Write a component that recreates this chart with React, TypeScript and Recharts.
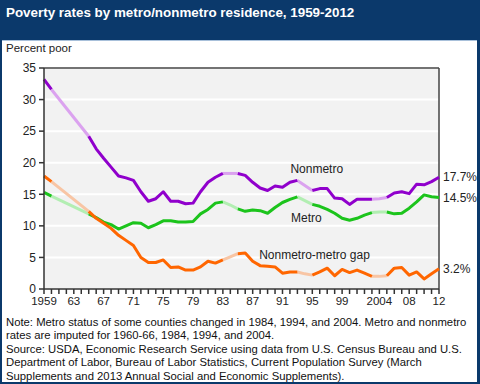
import React from 'react'
import { LineChart, Line, XAxis, YAxis, CartesianGrid, ReferenceLine, ReferenceDot } from 'recharts'

const years = [
  1959, 1960, 1961, 1962, 1963, 1964, 1965, 1966, 1967, 1968,
  1969, 1970, 1971, 1972, 1973, 1974, 1975, 1976, 1977, 1978,
  1979, 1980, 1981, 1982, 1983, 1984, 1985, 1986, 1987, 1988,
  1989, 1990, 1991, 1992, 1993, 1994, 1995, 1996, 1997, 1998,
  1999, 2000, 2001, 2002, 2003, 2004, 2005, 2006, 2007, 2008,
  2009, 2010, 2011, 2012,
]

const nonmetro = [
  33.2, 31.6, null, null, null, null, 24.2, 22.2, 20.7, 19.3,
  17.9, 17.6, 17.2, 15.4, 13.9, 14.3, 15.4, 13.9, 13.9, 13.5,
  13.6, 15.4, 16.9, 17.7, 18.3, 18.3, 18.3, 18.0, 16.9, 16.0,
  15.6, 16.3, 16.1, 16.9, 17.2, 16.4, 15.6, 15.9, 15.9, 14.4,
  14.3, 13.4, 14.2, 14.2, 14.2, 14.3, 14.5, 15.2, 15.4, 15.1,
  16.6, 16.5, 17.0, 17.7,
]

const metro = [
  15.3, 14.7, null, null, null, null, 11.9, 11.3, 10.6, 10.2,
  9.5, 10.0, 10.5, 10.4, 9.7, 10.2, 10.8, 10.8, 10.6, 10.6,
  10.7, 11.9, 12.6, 13.6, 13.8, 13.3, 12.7, 12.3, 12.5, 12.4,
  12.0, 12.9, 13.7, 14.2, 14.6, 14.0, 13.4, 13.1, 12.6, 12.0,
  11.2, 10.9, 11.2, 11.7, 12.1, 12.2, 12.2, 11.9, 12.0, 12.8,
  13.8, 14.9, 14.6, 14.5,
]

const gap = [
  17.9, 17.0, null, null, null, null, 12.3, 11.2, 10.4, 9.6,
  8.5, 7.7, 6.9, 5.0, 4.2, 4.2, 4.6, 3.4, 3.5, 3.0,
  3.0, 3.5, 4.4, 4.1, 4.6, 5.1, 5.6, 5.7, 4.4, 3.7,
  3.6, 3.5, 2.5, 2.7, 2.7, 2.4, 2.2, 2.7, 3.3, 2.1,
  3.1, 2.6, 3.0, 2.5, 2.0, 2.0, 2.1, 3.3, 3.4, 2.2,
  2.7, 1.6, 2.4, 3.2,
]

// stretches drawn in the pale colour (imputed years)
const imputedSpans = [
  [1960, 1965],
  [1983, 1985],
  [1993, 1995],
  [2003, 2005],
]

const xLabelYears = [1959, 1963, 1967, 1971, 1975, 1979, 1983, 1987, 1991, 1995, 1999, 2004, 2008, 2012]
const xLabels = ['1959', '63', '67', '71', '75', '79', '83', '87', '91', '95', '99', '2004', '08', '12']
const yTicks = [0, 5, 10, 15, 20, 25, 30, 35]

const series = [
  { key: 'nonmetro', values: nonmetro, dark: '#9000cc', light: '#dba2ef', end: '17.7%' },
  { key: 'metro', values: metro, dark: '#1cc41c', light: '#b2eeb2', end: '14.5%' },
  { key: 'gap', values: gap, dark: '#ff6600', light: '#f8c5a4', end: '3.2%' },
]

const inSpan = (y: number) => imputedSpans.some(([s, e]) => y > s && y < e)

const rows = years.map((year, i) => {
  const row: Record<string, number | null> = { year }
  series.forEach((s) => {
    row[s.key] = inSpan(year) ? null : s.values[i]
  })
  return row
})

const FONT = '"Liberation Sans", Arial, Helvetica, sans-serif'

const XTick = (props: any) => {
  const { x, y, payload } = props
  const i = xLabelYears.indexOf(payload.value)
  if (i < 0) return <g />
  return (
    <text x={x} y={y + 9} textAnchor="middle" fill="#222" fontSize={11.5} fontFamily={FONT}>
      {xLabels[i]}
    </text>
  )
}

export default function App() {
  return (
    <div
      style={{
        position: 'absolute',
        left: 0,
        top: 0,
        width: 480,
        height: 384,
        background: '#0b396b',
        fontFamily: FONT,
        overflow: 'hidden',
      }}
    >
      <div style={{ position: 'absolute', left: 6, top: 5, color: '#fff', fontWeight: 700, fontSize: 13.4 }}>
        Poverty rates by metro/nonmetro residence, 1959-2012
      </div>
      <div
        style={{
          position: 'absolute',
          left: 2,
          top: 40,
          width: 475,
          height: 342,
          background: '#fff',
          borderTop: '1px solid #a8c0da',
          boxSizing: 'border-box',
        }}
      />
      <div style={{ position: 'absolute', left: 6, top: 42, fontSize: 11.5, color: '#222' }}>Percent poor</div>

      <div style={{ position: 'absolute', left: 0, top: 0 }}>
        <LineChart
          width={480}
          height={384}
          data={rows}
          margin={{ top: 68, right: 41, bottom: 71, left: 10 }}
        >
          <CartesianGrid horizontal vertical={false} stroke="#ffffff" strokeWidth={2} fill="#f2f2f2" />
          <XAxis
            dataKey="year"
            type="number"
            domain={[1959, 2012]}
            ticks={years}
            interval={0}
            height={24}
            tick={<XTick />}
            tickSize={5}
            tickMargin={2}
            axisLine={{ stroke: '#333', strokeWidth: 1.5 }}
            tickLine={{ stroke: '#333', strokeWidth: 1.5 }}
          />
          <YAxis
            type="number"
            domain={[0, 35]}
            ticks={yTicks}
            interval={0}
            width={34}
            tickSize={5}
            tickMargin={3}
            tick={{ fill: '#222', fontSize: 12, fontFamily: FONT }}
            axisLine={{ stroke: '#333', strokeWidth: 1.5 }}
            tickLine={{ stroke: '#333', strokeWidth: 1.5 }}
          />
          <ReferenceLine y={35} stroke="#444" strokeWidth={1.5} />
          <ReferenceLine x={2012} stroke="#444" strokeWidth={1.5} />

          {series.map((s) =>
            imputedSpans.map(([a, b]) => (
              <Line
                key={`${s.key}-${a}`}
                data={years
                  .map((year, i) => ({ year, v: s.values[i] }))
                  .filter((d) => d.year >= a && d.year <= b && d.v !== null)}
                dataKey="v"
                type="linear"
                stroke={s.light}
                strokeWidth={3}
                dot={false}
                activeDot={false}
                isAnimationActive={false}
              />
            )),
          )}

          {series.map((s) => (
            <Line
              key={s.key}
              dataKey={s.key}
              type="linear"
              stroke={s.dark}
              strokeWidth={3}
              strokeLinejoin="round"
              dot={false}
              activeDot={false}
              connectNulls={false}
              isAnimationActive={false}
            />
          ))}

          {series.map((s) => (
            <ReferenceDot
              key={`end-${s.key}`}
              x={2012}
              y={s.values[s.values.length - 1] as number}
              r={1}
              fill="none"
              stroke="none"
              label={{ value: s.end, position: 'right', offset: 3, fill: '#222', fontSize: 12, fontFamily: FONT }}
            />
          ))}
          <ReferenceDot
            x={1995.6}
            y={19.1}
            r={1}
            fill="none"
            stroke="none"
            label={{ value: 'Nonmetro', position: 'center', fill: '#222', fontSize: 12, fontFamily: FONT }}
          />
          <ReferenceDot
            x={1994.2}
            y={11.3}
            r={1}
            fill="none"
            stroke="none"
            label={{ value: 'Metro', position: 'center', fill: '#222', fontSize: 12, fontFamily: FONT }}
          />
          <ReferenceDot
            x={1995.3}
            y={5.5}
            r={1}
            fill="none"
            stroke="none"
            label={{ value: 'Nonmetro-metro gap', position: 'center', fill: '#222', fontSize: 12, fontFamily: FONT }}
          />
        </LineChart>
      </div>

      <div
        style={{
          position: 'absolute',
          left: 6,
          top: 316,
          fontSize: 11.3,
          lineHeight: '13.4px',
          color: '#111',
          whiteSpace: 'nowrap',
        }}
      >
        Note: Metro status of some counties changed in 1984, 1994, and 2004. Metro and nonmetro
        <br />
        rates are imputed for 1960-66, 1984, 1994, and 2004.
        <br />
        Source: USDA, Economic Research Service using data from U.S. Census Bureau and U.S.
        <br />
        Department of Labor, Bureau of Labor Statistics, Current Population Survey (March
        <br />
        Supplements and 2013 Annual Social and Economic Supplements).
      </div>
    </div>
  )
}
